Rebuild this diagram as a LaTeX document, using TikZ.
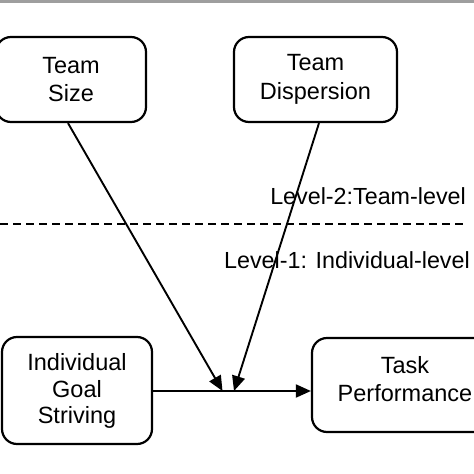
\documentclass[tikz,border=0pt]{standalone}
\usepackage{fontspec}
\setmainfont{Liberation Sans}
\usetikzlibrary{arrows.meta}
\begin{document}
\begin{tikzpicture}[x=1pt,y=-1pt,
  box/.style={draw=black,line width=2.2pt,rounded corners=15pt,align=center,
    font=\fontsize{23.5}{28.5}\selectfont,inner sep=0pt},
  txt/.style={align=center,font=\fontsize{23.5}{28.5}\selectfont,inner sep=0pt},
  conn/.style={line width=1.9pt,-{Triangle[length=15pt,width=13pt]}},
  lvl/.style={font=\fontsize{23.3}{27}\selectfont,anchor=east,inner sep=0pt}]
\useasboundingbox (0,0) rectangle (474,474);
\begin{scope}
\clip (0,0) rectangle (474,474);
\fill[black!38] (0,0) rectangle (474,2.5);
\node[box,minimum width=150pt,minimum height=85pt] (size) at (71,79.5) {Team\\Size};
\node[box,minimum width=163pt,minimum height=85pt] (disp) at (315.5,79.5) {Team\\Dispersion};
\node[box,minimum width=150pt,minimum height=107pt] (igs) at (77,390.5) {};
\node[txt,font=\fontsize{23.5}{26.5}\selectfont] (igstext) at (77,391) {Individual\\Goal\\Striving};
\node[box,minimum width=186pt,minimum height=94pt] (task) at (405,385) {};
\node[txt,font=\fontsize{23.5}{28}\selectfont] (tasktext) at (405,379) {Task\\Performance};
\draw[line width=1.5pt,dash pattern=on 8pt off 5pt] (0,224) -- (467,224);
\node[lvl] (l2) at (466,196) {Level-2:Team-level};
\node[lvl] (l1) at (470,260) {Level-1: Individual-level};
\coordinate (ta) at (222.5,391);
\coordinate (tb) at (234,391);
\draw[conn] (igs.east |- 0,391) -- (task.west |- 0,391);
\draw[conn] (size.south -| 68,0) -- (ta);
\draw[conn] (disp.south -| 319,0) -- (tb);
\end{scope}
\end{tikzpicture}
\end{document}
